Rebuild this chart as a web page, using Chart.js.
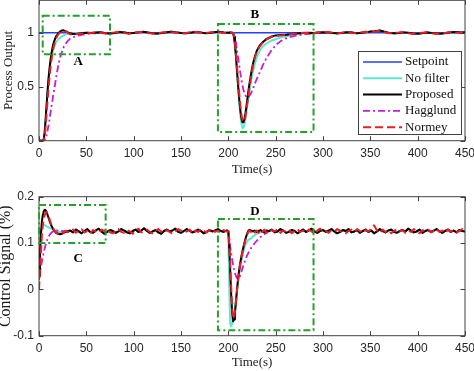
<!DOCTYPE html>
<html>
<head>
<meta charset="utf-8">
<script src="https://cdn.jsdelivr.net/npm/chart.js@4.4.1/dist/chart.umd.min.js"></script>
<style>
  html, body { margin: 0; padding: 0; background: #fff; }
  #wrap { position: relative; width: 474px; height: 371px; overflow: hidden; }
  canvas { position: absolute; left: 0; }
  #topChart { top: 0; }
  #bottomChart { top: 185px; }
</style>
</head>
<body>
<div id="wrap">
  <canvas id="topChart" width="474" height="185"></canvas>
  <canvas id="bottomChart" width="474" height="186"></canvas>
</div>
<script>
//--- axis ticks
var xTicks = [0, 50, 100, 150, 200, 250, 300, 350, 400, 450];
var yTicksTop = [0, 0.5, 1];
var yTicksBottom = [-0.1, 0, 0.1, 0.2];

//--- process output (top plot)
var spTime = [0, 450];
var spVals = [1, 1];

var tRise = [0, 2, 4, 5, 6, 7, 8, 9, 10, 11, 12, 13, 14, 15, 16, 18, 20, 22, 24, 26, 28, 30, 33, 36, 40, 45, 50, 55, 60];
var propRise = [0, 0, 0, 0.01, 0.08, 0.2, 0.33, 0.46, 0.57, 0.66, 0.74, 0.8, 0.85, 0.89, 0.92, 0.965, 0.99, 1.01, 1.02, 1.022, 1.015, 1.005, 0.992, 0.988, 0.99, 0.995, 1.0, 0.998, 1.002];
var nofRise = [0, 0, 0, 0.01, 0.08, 0.19, 0.31, 0.43, 0.53, 0.62, 0.69, 0.75, 0.8, 0.84, 0.87, 0.91, 0.935, 0.952, 0.965, 0.975, 0.982, 0.987, 0.992, 0.995, 0.997, 0.998, 1.0, 0.999, 1.001];
var hagRise = [0, 0, 0, 0, 0.005, 0.02, 0.05, 0.09, 0.14, 0.19, 0.25, 0.31, 0.36, 0.42, 0.47, 0.58, 0.68, 0.76, 0.82, 0.865, 0.895, 0.92, 0.945, 0.958, 0.97, 0.98, 0.987, 0.992, 0.995];
var normRise = [0, 0, 0, 0, 0.04, 0.13, 0.25, 0.37, 0.48, 0.58, 0.67, 0.74, 0.8, 0.85, 0.89, 0.945, 0.98, 1.0, 1.012, 1.018, 1.012, 1.0, 0.985, 0.982, 0.988, 0.99, 1.0, 0.996, 1.004];

var tMid = [65, 70, 75, 80, 85, 90, 95, 100, 105, 110, 115, 120, 125, 130, 135, 140, 145, 150, 155, 160, 165, 170, 175, 180, 185, 190, 195, 200];
var outMid = [1.004, 0.996, 0.993, 0.998, 1.006, 1.002, 0.994, 0.997, 1.003, 1.008, 1.001, 0.995, 0.992, 0.998, 1.004, 1.009, 1.003, 0.997, 0.994, 1.0, 1.006, 1.003, 0.996, 0.998, 1.005, 1.008, 1.002, 1.0];
var outMidRed = [1.0, 0.993, 0.997, 1.003, 1.009, 0.998, 0.991, 1.0, 1.006, 1.004, 0.997, 0.992, 0.996, 1.002, 1.007, 1.005, 0.999, 0.993, 0.998, 1.004, 1.008, 0.999, 0.994, 1.002, 1.007, 1.004, 0.998, 1.002];

var tDist = [202, 204, 205, 206, 207, 208, 209, 210, 211, 212, 213, 214, 215, 216, 217, 218, 219, 220, 222, 224, 226, 228, 230, 233, 236, 240, 245, 250, 255, 260, 265, 270, 275, 280, 285, 290, 295, 300];
var propDist = [1.001, 0.999, 0.995, 0.96, 0.89, 0.79, 0.67, 0.55, 0.44, 0.34, 0.26, 0.2, 0.17, 0.17, 0.2, 0.25, 0.31, 0.38, 0.51, 0.62, 0.71, 0.78, 0.83, 0.88, 0.91, 0.94, 0.962, 0.975, 0.978, 0.979, 0.985, 0.99, 0.995, 0.998, 1.0, 0.997, 1.002, 1.004];
var nofDist = [1.0, 1.0, 0.995, 0.955, 0.88, 0.77, 0.65, 0.52, 0.4, 0.3, 0.21, 0.15, 0.115, 0.12, 0.15, 0.2, 0.26, 0.32, 0.44, 0.55, 0.64, 0.71, 0.77, 0.83, 0.87, 0.9, 0.925, 0.94, 0.955, 0.965, 0.975, 0.983, 0.99, 0.994, 0.997, 0.998, 1.0, 1.0];
var hagDist = [1.0, 1.0, 0.998, 0.985, 0.955, 0.91, 0.85, 0.79, 0.73, 0.67, 0.61, 0.56, 0.51, 0.47, 0.44, 0.42, 0.405, 0.4, 0.41, 0.44, 0.48, 0.53, 0.57, 0.63, 0.69, 0.76, 0.83, 0.885, 0.92, 0.945, 0.96, 0.97, 0.978, 0.985, 0.99, 0.993, 0.996, 0.998];
var normDist = [1.003, 0.998, 1.0, 0.975, 0.91, 0.82, 0.71, 0.6, 0.49, 0.39, 0.3, 0.23, 0.19, 0.175, 0.18, 0.22, 0.28, 0.34, 0.47, 0.59, 0.69, 0.77, 0.82, 0.87, 0.905, 0.935, 0.96, 0.97, 0.975, 0.98, 0.986, 0.99, 0.996, 1.0, 0.998, 0.995, 1.003, 1.005];

var tEnd = [305, 310, 315, 320, 325, 330, 335, 340, 345, 350, 355, 360, 365, 370, 375, 380, 385, 390, 395, 400, 405, 410, 415, 420, 425, 430, 435, 440, 445, 450];
var outEnd = [1.003, 0.997, 0.994, 0.998, 1.004, 1.002, 0.996, 0.998, 1.005, 1.01, 1.014, 1.02, 1.008, 0.998, 0.994, 0.997, 1.003, 0.999, 0.993, 0.991, 0.996, 1.002, 0.998, 0.993, 0.992, 0.997, 1.004, 1.007, 1.002, 1.004];
var outEndRed = [1.006, 0.999, 0.992, 1.0, 1.007, 0.998, 0.994, 1.002, 1.008, 1.006, 1.01, 1.018, 1.004, 0.995, 0.997, 1.001, 1.006, 0.996, 0.991, 0.994, 1.0, 1.005, 0.995, 0.99, 0.995, 1.0, 1.007, 1.003, 0.998, 1.005];

//--- control signal (bottom plot)
var cRiseT = [0, 1, 2, 3, 4, 5, 6, 7, 8, 9, 10, 11, 12, 13, 14, 15, 16, 18, 20, 22, 24, 26, 28, 30];
var cPropRise = [0.03, 0.08, 0.12, 0.145, 0.16, 0.168, 0.172, 0.171, 0.167, 0.161, 0.155, 0.149, 0.143, 0.138, 0.134, 0.13, 0.127, 0.122, 0.12, 0.119, 0.12, 0.122, 0.124, 0.125];
var cNofRise = [0.03, 0.08, 0.115, 0.132, 0.139, 0.14, 0.139, 0.137, 0.136, 0.135, 0.134, 0.133, 0.132, 0.131, 0.13, 0.129, 0.128, 0.126, 0.125, 0.124, 0.125, 0.126, 0.125, 0.126];
var cHagRise = [0.02, 0.035, 0.048, 0.06, 0.07, 0.079, 0.088, 0.096, 0.103, 0.108, 0.113, 0.117, 0.12, 0.122, 0.124, 0.125, 0.126, 0.127, 0.127, 0.126, 0.126, 0.125, 0.126, 0.126];
var cNormRise = [0, 0.04, 0.08, 0.115, 0.138, 0.152, 0.16, 0.165, 0.167, 0.163, 0.158, 0.152, 0.146, 0.14, 0.136, 0.131, 0.128, 0.123, 0.12, 0.121, 0.119, 0.123, 0.126, 0.124];

var cMidT = [33, 36, 39, 42, 45, 48, 51, 54, 57, 60, 63, 66, 69, 72, 75, 78, 81, 84, 87, 90, 93, 96, 99, 102, 105, 108, 111, 114, 117, 120, 123, 126, 129, 132, 135, 138, 141, 144, 147, 150, 153, 156, 159, 162, 165, 168, 171, 174, 177, 180, 183, 186, 189, 192, 195, 198];
var cMid = [0.127, 0.123, 0.129, 0.125, 0.121, 0.126, 0.13, 0.124, 0.122, 0.127, 0.131, 0.125, 0.12, 0.124, 0.128, 0.126, 0.122, 0.125, 0.13, 0.127, 0.123, 0.121, 0.126, 0.129, 0.124, 0.127, 0.132, 0.126, 0.122, 0.125, 0.128, 0.123, 0.12, 0.126, 0.129, 0.125, 0.127, 0.131, 0.124, 0.122, 0.126, 0.13, 0.127, 0.123, 0.125, 0.129, 0.126, 0.121, 0.124, 0.128, 0.125, 0.127, 0.13, 0.126, 0.124, 0.127];
var cMidRed = [0.124, 0.129, 0.122, 0.127, 0.13, 0.123, 0.126, 0.12, 0.128, 0.125, 0.122, 0.129, 0.126, 0.131, 0.123, 0.121, 0.127, 0.13, 0.124, 0.122, 0.128, 0.125, 0.12, 0.127, 0.131, 0.123, 0.126, 0.129, 0.124, 0.121, 0.127, 0.13, 0.125, 0.122, 0.128, 0.124, 0.12, 0.126, 0.13, 0.127, 0.123, 0.125, 0.129, 0.121, 0.127, 0.124, 0.13, 0.126, 0.123, 0.128, 0.131, 0.124, 0.127, 0.122, 0.128, 0.125];

var cDistT = [199, 200, 201, 202, 203, 204, 205, 206, 207, 208, 209, 210, 211, 212, 213, 214, 215, 216, 217, 218, 219, 220, 221, 222, 224, 226, 228, 230, 232, 234, 236, 238, 240];
var cPropDist = [0.127, 0.125, 0.09, 0.04, -0.01, -0.05, -0.069, -0.065, -0.05, -0.03, -0.005, 0.018, 0.035, 0.05, 0.062, 0.073, 0.083, 0.092, 0.1, 0.108, 0.115, 0.121, 0.126, 0.128, 0.127, 0.125, 0.127, 0.124, 0.126, 0.128, 0.125, 0.123, 0.127];
var cNofDist = [0.126, 0.125, 0.0, -0.075, -0.08, -0.075, -0.062, -0.048, -0.033, -0.018, -0.003, 0.012, 0.026, 0.04, 0.052, 0.063, 0.073, 0.082, 0.09, 0.096, 0.1, 0.103, 0.106, 0.108, 0.11, 0.114, 0.117, 0.12, 0.122, 0.123, 0.124, 0.125, 0.126];
var cHagDist = [0.126, 0.126, 0.11, 0.093, 0.078, 0.065, 0.053, 0.043, 0.035, 0.029, 0.025, 0.022, 0.023, 0.027, 0.033, 0.039, 0.046, 0.052, 0.058, 0.064, 0.069, 0.074, 0.078, 0.082, 0.089, 0.095, 0.1, 0.105, 0.109, 0.113, 0.116, 0.119, 0.121];
var cNormDist = [0.124, 0.126, 0.1, 0.055, 0.005, -0.04, -0.063, -0.062, -0.048, -0.028, -0.006, 0.015, 0.032, 0.047, 0.06, 0.071, 0.081, 0.09, 0.098, 0.106, 0.113, 0.119, 0.124, 0.127, 0.124, 0.129, 0.123, 0.127, 0.122, 0.128, 0.124, 0.129, 0.123];

var cEndT = [243, 246, 249, 252, 255, 258, 261, 264, 267, 270, 273, 276, 279, 282, 285, 288, 291, 294, 297, 300, 303, 306, 309, 312, 315, 318, 321, 324, 327, 330, 333, 336, 339, 342, 345, 348, 351, 354, 357, 360, 363, 366, 369, 372, 375, 378, 381, 384, 387, 390, 393, 396, 399, 402, 405, 408, 411, 414, 417, 420, 423, 426, 429, 432, 435, 438, 441, 444, 447, 450];
var cEnd = [0.126, 0.129, 0.123, 0.125, 0.13, 0.127, 0.122, 0.124, 0.128, 0.126, 0.121, 0.125, 0.129, 0.124, 0.127, 0.131, 0.125, 0.122, 0.126, 0.128, 0.124, 0.127, 0.13, 0.125, 0.121, 0.124, 0.128, 0.126, 0.13, 0.123, 0.125, 0.128, 0.122, 0.126, 0.129, 0.124, 0.127, 0.121, 0.125, 0.13, 0.126, 0.123, 0.127, 0.129, 0.124, 0.122, 0.126, 0.128, 0.125, 0.131, 0.127, 0.123, 0.125, 0.129, 0.122, 0.126, 0.128, 0.124, 0.127, 0.13, 0.125, 0.122, 0.126, 0.129, 0.124, 0.127, 0.123, 0.128, 0.126, 0.125];
var cEndRed = [0.123, 0.128, 0.125, 0.13, 0.122, 0.127, 0.124, 0.129, 0.121, 0.126, 0.13, 0.124, 0.127, 0.122, 0.129, 0.125, 0.12, 0.127, 0.131, 0.124, 0.126, 0.122, 0.128, 0.125, 0.13, 0.127, 0.123, 0.121, 0.126, 0.129, 0.124, 0.13, 0.126, 0.122, 0.128, 0.125, 0.131, 0.138, 0.127, 0.122, 0.129, 0.124, 0.127, 0.121, 0.126, 0.13, 0.125, 0.128, 0.122, 0.127, 0.124, 0.13, 0.126, 0.121, 0.128, 0.125, 0.129, 0.123, 0.126, 0.131, 0.124, 0.127, 0.122, 0.129, 0.125, 0.128, 0.123, 0.126, 0.13, 0.125];

//--- build full series
var tTop = [].concat(tRise, tMid, tDist, tEnd);
var tBot = [].concat(cRiseT, cMidT, cDistT, cEndT);

function pts(times, vals) {
    return times.map(function (t, i) { return { x: t, y: vals[i] }; });
}

var styles = {
    setpoint: { label: 'Setpoint', borderColor: '#2341f2', borderWidth: 1.6, borderDash: [], order: 5 },
    nofilter: { label: 'No filter', borderColor: '#5ee8d2', borderWidth: 2, borderDash: [], order: 4 },
    proposed: { label: 'Proposed', borderColor: '#000000', borderWidth: 2, borderDash: [], order: 2 },
    hagglund: { label: 'Hagglund', borderColor: '#c21fd8', borderWidth: 1.8, borderDash: [7, 3, 2, 3], order: 3 },
    normey: { label: 'Normey', borderColor: '#ee1c1c', borderWidth: 2, borderDash: [8, 4], order: 1 }
};

function ds(style, data) {
    return {
        label: style.label, data: data, borderColor: style.borderColor, borderWidth: style.borderWidth,
        borderDash: style.borderDash, order: style.order, pointRadius: 0, tension: 0,
        fill: false, borderJoinStyle: 'round'
    };
}

//--- frame, inward ticks, zoom boxes, legend (MATLAB look)
var figureExtras = {
    id: 'figureExtras',
    afterDatasetsDraw: function (chart, args, opts) {
        var ctx = chart.ctx, a = chart.chartArea;
        var xs = chart.scales.x, ys = chart.scales.y;
        var tl = 4.5;
        ctx.save();
        ctx.strokeStyle = '#404040';
        ctx.lineWidth = 1;
        ctx.setLineDash([]);
        ctx.strokeRect(a.left, a.top, a.right - a.left, a.bottom - a.top);
        ctx.beginPath();
        xs.ticks.forEach(function (t) {
            var px = Math.round(xs.getPixelForValue(t.value)) + 0.5;
            ctx.moveTo(px, a.bottom); ctx.lineTo(px, a.bottom - tl);
            ctx.moveTo(px, a.top); ctx.lineTo(px, a.top + tl);
        });
        ys.ticks.forEach(function (t) {
            var py = Math.round(ys.getPixelForValue(t.value)) + 0.5;
            ctx.moveTo(a.left, py); ctx.lineTo(a.left + tl, py);
            ctx.moveTo(a.right, py); ctx.lineTo(a.right - tl, py);
        });
        ctx.stroke();

        // zoom boxes
        ctx.strokeStyle = '#23a12a';
        ctx.lineWidth = 2;
        ctx.setLineDash([7, 3, 2, 3]);
        (opts.boxes || []).forEach(function (b) {
            var x0 = xs.getPixelForValue(b.x0), x1 = xs.getPixelForValue(b.x1);
            var y0 = ys.getPixelForValue(b.y1), y1 = ys.getPixelForValue(b.y0);
            ctx.strokeRect(x0, y0, x1 - x0, y1 - y0);
        });
        ctx.setLineDash([]);
        ctx.fillStyle = '#000';
        ctx.font = 'bold 13px "Liberation Serif"';
        ctx.textAlign = 'center';
        ctx.textBaseline = 'middle';
        (opts.letters || []).forEach(function (l) {
            ctx.fillText(l.text, xs.getPixelForValue(l.x), ys.getPixelForValue(l.y));
        });

        // legend
        if (opts.legend) {
            var lg = opts.legend;
            ctx.fillStyle = '#fff';
            ctx.fillRect(lg.left, lg.top, lg.width, lg.height);
            ctx.strokeStyle = '#404040';
            ctx.lineWidth = 1;
            ctx.strokeRect(lg.left + 0.5, lg.top + 0.5, lg.width, lg.height);
            ctx.font = '13px "Liberation Serif"';
            ctx.textAlign = 'left';
            chart.data.datasets.forEach(function (d, i) {
                var y = lg.top + lg.first + i * lg.step;
                ctx.strokeStyle = d.borderColor;
                ctx.lineWidth = d.borderWidth;
                ctx.setLineDash(d.borderDash || []);
                ctx.beginPath();
                ctx.moveTo(lg.left + 5, y);
                ctx.lineTo(lg.left + 44, y);
                ctx.stroke();
                ctx.setLineDash([]);
                ctx.fillStyle = '#111';
                ctx.fillText(d.label, lg.left + 47, y);
            });
        }
        ctx.restore();
    }
};

function makeOptions(cfg) {
    return {
        responsive: false,
        animation: false,
        devicePixelRatio: 1,
        layout: { padding: { left: 0, right: 9, top: cfg.top, bottom: 0 } },
        plugins: {
            legend: { display: false },
            tooltip: { enabled: false },
            figureExtras: cfg.extras
        },
        scales: {
            x: {
                type: 'linear', min: 0, max: 450,
                grid: { display: false, drawTicks: false },
                border: { display: false },
                afterBuildTicks: function (s) { s.ticks = xTicks.map(function (v) { return { value: v }; }); },
                afterFit: function (s) { s.height = cfg.xHeight; s.paddingLeft = 0; s.paddingRight = 0; },
                ticks: {
                    padding: 5.6, color: '#262626', maxRotation: 0, autoSkip: false,
                    font: { family: 'Liberation Sans', size: 12 },
                    callback: function (v) { return String(v); }
                },
                title: {
                    display: true, text: 'Time(s)', color: '#1a1a1a',
                    font: { family: 'Liberation Serif', size: 13, lineHeight: 1 },
                    padding: { top: 0, bottom: cfg.xTitlePad }
                }
            },
            y: {
                type: 'linear', min: cfg.yMin, max: cfg.yMax,
                grid: { display: false, drawTicks: false },
                border: { display: false },
                afterBuildTicks: function (s) { s.ticks = cfg.yTicks.map(function (v) { return { value: v }; }); },
                afterFit: function (s) { s.width = 39; s.paddingTop = 0; s.paddingBottom = 0; },
                ticks: {
                    padding: 5, color: '#262626',
                    font: { family: 'Liberation Sans', size: 12 },
                    callback: function (v) { return String(v); }
                },
                title: {
                    display: true, text: cfg.yTitle, color: '#1a1a1a',
                    font: { family: 'Liberation Serif', size: cfg.yTitleSize, lineHeight: 1 },
                    padding: { top: cfg.yTitlePad, bottom: 0 }
                }
            }
        }
    };
}

new Chart(document.getElementById('topChart'), {
    type: 'line',
    data: {
        datasets: [
            ds(styles.setpoint, pts(spTime, spVals)),
            ds(styles.nofilter, pts(tTop, [].concat(nofRise, outMid, nofDist, outEnd))),
            ds(styles.proposed, pts(tTop, [].concat(propRise, outMid, propDist, outEnd))),
            ds(styles.hagglund, pts(tTop, [].concat(hagRise, outMid, hagDist, outEnd))),
            ds(styles.normey, pts(tTop, [].concat(normRise, outMidRed, normDist, outEndRed)))
        ]
    },
    options: makeOptions({
        top: 0.3, xHeight: 44.3, xTitlePad: 8.5, yMin: 0, yMax: 1.3, yTicks: yTicksTop,
        yTitle: 'Process Output', yTitleSize: 13, yTitlePad: 2.5,
        extras: {
            boxes: [{ x0: 3.9, x1: 75, y0: 0.8, y1: 1.157 }, { x0: 189, x1: 290, y0: 0.08, y1: 1.08 }],
            letters: [{ text: 'A', x: 41.5, y: 0.73 }, { text: 'B', x: 228, y: 1.165 }],
            legend: { left: 358, top: 51, width: 103, height: 83, first: 11, step: 16.3 }
        }
    }),
    plugins: [figureExtras]
});

new Chart(document.getElementById('bottomChart'), {
    type: 'line',
    data: {
        datasets: [
            ds(styles.nofilter, pts(tBot, [].concat(cNofRise, cMid, cNofDist, cEnd))),
            ds(styles.proposed, pts(tBot, [].concat(cPropRise, cMid, cPropDist, cEnd))),
            ds(styles.hagglund, pts(tBot, [].concat(cHagRise, cMid, cHagDist, cEnd))),
            ds(styles.normey, pts(tBot, [].concat(cNormRise, cMidRed, cNormDist, cEndRed)))
        ]
    },
    options: makeOptions({
        top: 11.7, xHeight: 35.3, xTitlePad: 1.5, yMin: -0.1, yMax: 0.2, yTicks: yTicksBottom,
        yTitle: 'Control Signal (%)', yTitleSize: 16, yTitlePad: -2,
        extras: {
            boxes: [{ x0: 0, x1: 70.4, y0: 0.1, y1: 0.182 }, { x0: 189, x1: 290, y0: -0.088, y1: 0.152 }],
            letters: [{ text: 'C', x: 41.5, y: 0.067 }, { text: 'D', x: 228, y: 0.168 }]
        }
    }),
    plugins: [figureExtras]
});
</script>
</body>
</html>
